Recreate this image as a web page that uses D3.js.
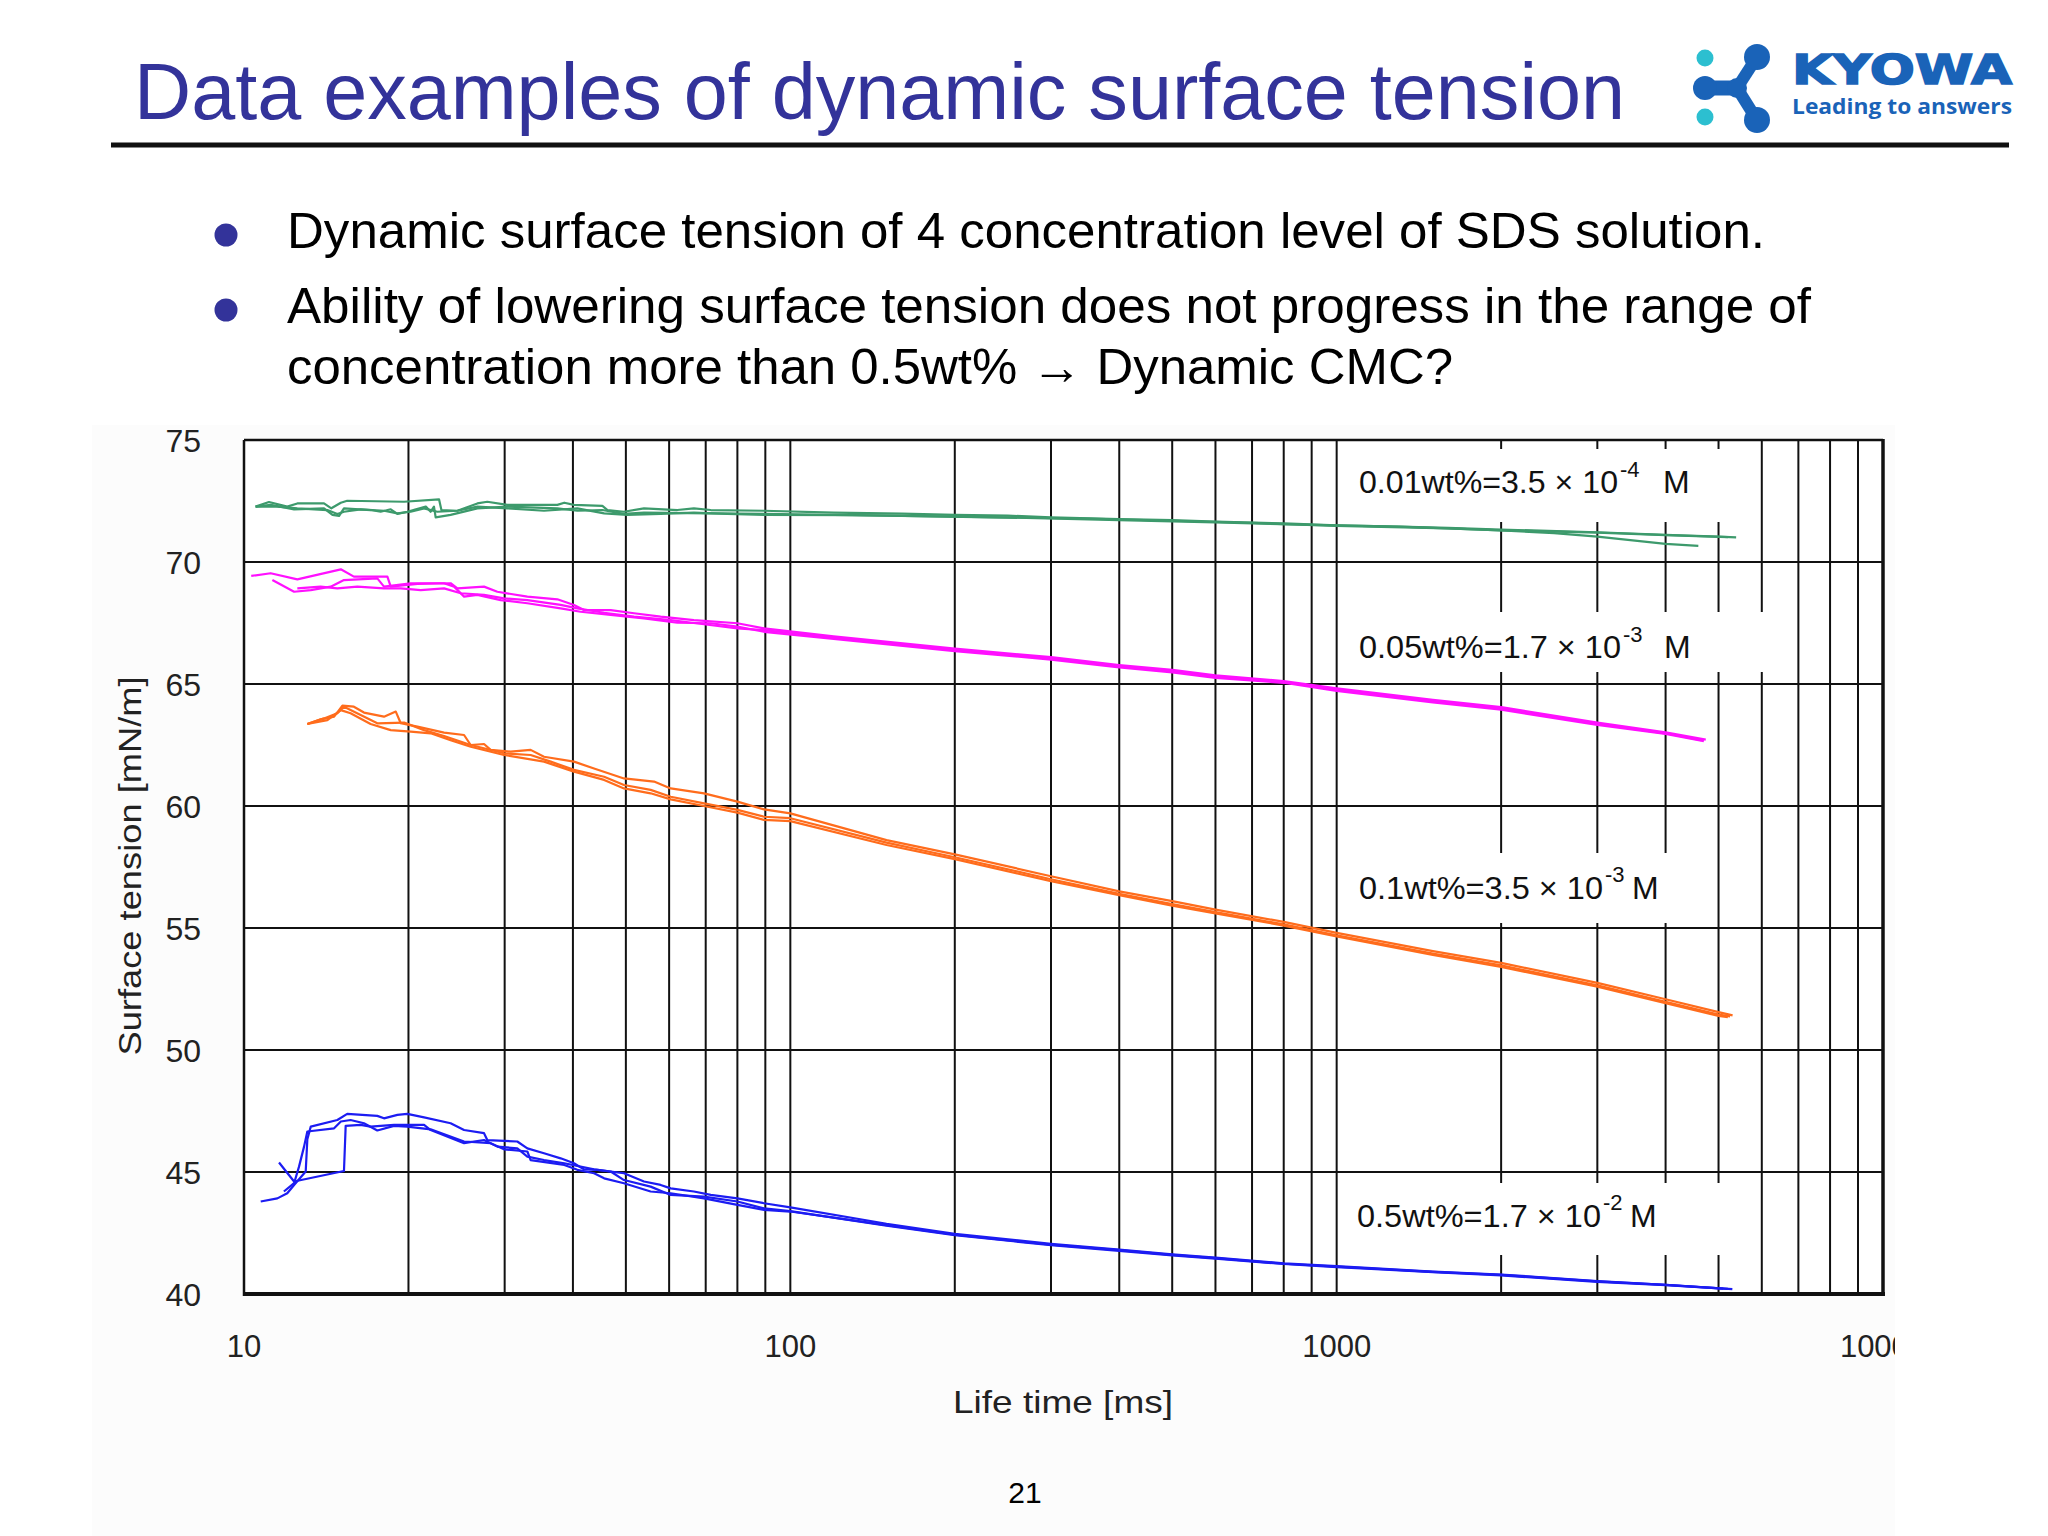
<!DOCTYPE html>
<html>
<head>
<meta charset="utf-8">
<script src="https://cdn.jsdelivr.net/npm/d3@7"></script>
<style>
  body { margin: 0; background: #fff; }
  svg { display: block; }
</style>
</head>
<body>
<svg id="slide"></svg>
<script>
// [life time ms, surface tension mN/m], three runs per concentration
const green1 = [[10.5,72.27],[11.11,72.46],[12.0,72.27],[12.52,72.40],[14.01,72.40],[14.45,72.20],[15.04,72.43],[15.45,72.51],[19.63,72.47],[22.75,72.57],[22.98,72.13],[24.58,72.10],[26.74,72.40],[27.88,72.47],[30.34,72.34],[37.46,72.34],[38.57,72.43],[40.18,72.34],[45.29,72.30],[46.27,72.13],[49.6,72.06],[53.97,72.20],[62.1,72.13],[66.6,72.20],[71.5,72.13],[89.5,72.10],[120,72.02],[160,71.98],[200,71.93],[250,71.9],[300,71.83],[400,71.76],[500,71.72],[600,71.66],[800,71.58],[1000,71.5],[1300,71.45],[1600,71.4],[2000,71.33],[3000,71.22],[4000,71.11],[5000,71.04],[5385,71.01]];
const green2 = [[10.5,72.27],[11.19,72.34],[12.35,72.16],[14.01,72.20],[14.52,71.93],[14.93,71.89],[15.24,72.20],[17.05,72.13],[17.79,72.06],[18.56,72.16],[19.09,71.97],[19.9,72.06],[21.52,72.27],[21.96,72.06],[22.27,72.27],[22.43,71.83],[23.89,71.93],[26.74,72.20],[30.34,72.27],[37.46,72.20],[40.75,72.10],[45.29,72.13],[49.6,71.97],[53.97,72.02],[71.5,71.99],[89.5,71.97],[150,71.9],[250,71.82],[400,71.72],[600,71.62],[900,71.52],[1300,71.45],[2000,71.3],[2500,71.18],[3000,71.04],[4000,70.74],[4592,70.66]];
const green3 = [[10.5,72.27],[11.51,72.27],[12.52,72.2],[14.21,72.13],[14.82,71.97],[15.24,72.06],[16.35,72.16],[18.04,72.10],[19.09,71.99],[20.19,72.06],[21.36,72.2],[22.58,72.06],[24.58,72.10],[26.74,72.27],[30.34,72.2],[35.41,72.10],[40.75,72.2],[45.62,71.99],[50.3,71.93],[57.89,71.97],[66.6,72.02],[76.7,71.97],[89.5,71.93],[130,71.92],[200,71.86],[350,71.78],[500,71.69],[700,71.6],[1000,71.48],[1600,71.38],[2000,71.3],[3000,71.2],[4000,71.1],[5200,71.02]];

const pink1 = [[10.31,69.43],[11.19,69.54],[12.52,69.29],[15.04,69.70],[15.89,69.40],[18.3,69.40],[18.56,68.99],[20.77,69.10],[23.89,69.13],[24.58,68.92],[27.5,68.99],[29.09,68.78],[33.01,68.58],[37.46,68.47],[40.18,68.24],[41.9,68.03],[46.9,68.03],[51.74,67.90],[57.89,67.76],[66.6,67.62],[80,67.49],[89.5,67.28],[120,66.95],[200,66.45],[300,66.1],[400,65.78],[500,65.58],[600,65.35],[800,65.12],[1000,64.82],[1500,64.35],[2000,64.05],[3000,63.42],[4000,63.02],[4738,62.72]];
const pink2 = [[11.27,69.26],[12.35,68.78],[13.25,68.85],[14.41,68.99],[15.24,69.26],[17.54,69.33],[18.04,68.99],[20.19,69.13],[23.24,69.13],[24.24,68.99],[25.28,68.58],[26.74,68.65],[29.5,68.44],[33.01,68.31],[37.98,68.10],[41.32,67.96],[46.9,67.83],[53.97,67.69],[62.1,67.51],[71.5,67.49],[80,67.35],[89.5,67.14],[120,66.85],[200,66.35],[300,66.0],[400,65.68],[500,65.48],[600,65.25],[800,65.05],[1000,64.72],[1500,64.25],[2000,63.95],[3000,63.32],[4000,62.95],[4700,62.66]];
const pink3 = [[12.52,68.92],[13.81,68.99],[14.82,68.92],[16.12,68.99],[18.04,68.92],[19.36,68.92],[21.06,68.85],[23.24,68.92],[24.93,68.72],[27.5,68.65],[29.92,68.51],[33.01,68.44],[37.98,68.24],[40.75,68.10],[45.62,67.92],[51.74,67.76],[60.4,67.62],[69.5,67.45],[80,67.28],[89.5,67.21],[120,66.9],[200,66.4],[300,66.05],[400,65.72],[500,65.52],[600,65.3],[800,65.08],[1000,64.77],[1500,64.3],[2000,64.0],[3000,63.36],[4000,62.98],[4650,62.7]];

const orange1 = [[13.06,63.36],[13.81,63.55],[14.62,63.66],[15.14,64.11],[15.89,64.07],[16.58,63.83],[18.04,63.66],[18.96,63.87],[19.36,63.39],[20.77,63.25],[23.24,63.01],[25.28,62.91],[26.0,62.50],[27.5,62.54],[28.28,62.30],[30.77,62.23],[33.47,62.30],[35.41,62.02],[40.18,61.82],[43.72,61.54],[49.6,61.13],[56.3,61.0],[60.4,60.72],[69.5,60.52],[80,60.18],[89.5,59.86],[100,59.7],[150,58.6],[200,58.02],[300,57.12],[400,56.5],[500,56.1],[600,55.75],[800,55.25],[1000,54.8],[1500,54.05],[2000,53.57],[3000,52.75],[4000,52.08],[5000,51.55],[5305,51.42]];
const orange2 = [[13.06,63.36],[14.01,63.59],[14.82,63.80],[15.24,64.07],[16.35,63.73],[17.54,63.39],[19.63,63.42],[21.36,63.11],[23.24,62.87],[26.0,62.50],[29.92,62.16],[33.47,62.09],[36.42,61.82],[40.18,61.48],[45.62,61.2],[49.6,60.86],[55.5,60.66],[60.4,60.38],[69.5,60.11],[80,59.84],[89.5,59.56],[100,59.5],[150,58.5],[200,57.9],[300,57.0],[400,56.4],[500,55.98],[600,55.65],[800,55.15],[1000,54.7],[1500,53.95],[2000,53.47],[3000,52.65],[4000,51.97],[5000,51.45],[5250,51.38]];
const orange3 = [[13.06,63.36],[14.21,63.52],[15.04,63.93],[15.67,63.80],[17.05,63.36],[18.56,63.11],[20.19,63.05],[21.96,62.98],[23.89,62.70],[26.0,62.43],[29.92,62.09],[35.41,61.82],[40.18,61.41],[45.62,61.07],[49.6,60.72],[55.5,60.52],[60.4,60.27],[69.5,60.0],[80,59.73],[89.5,59.43],[100,59.38],[150,58.4],[200,57.82],[300,56.92],[400,56.35],[500,55.92],[600,55.6],[800,55.1],[1000,54.65],[1500,53.9],[2000,53.4],[3000,52.6],[4000,51.92],[5000,51.4],[5200,51.35]];

const blue1 = [[10.73,43.79],[11.51,43.92],[12.0,44.13],[12.35,44.47],[12.97,45.02],[13.06,46.34],[13.25,46.86],[14.82,47.13],[15.45,47.38],[17.54,47.30],[18.04,47.20],[19.09,47.34],[19.9,47.38],[21.36,47.24],[23.89,47.0],[25.28,46.72],[27.5,46.59],[27.88,46.31],[31.64,46.25],[33.01,45.97],[35.41,45.77],[37.98,45.56],[40.18,45.36],[41.9,45.11],[44.33,45.09],[49.6,44.95],[53.97,44.61],[57.89,44.47],[60.4,44.33],[66.6,44.20],[71.5,44.06],[80,43.92],[89.5,43.72],[100,43.55],[150,42.88],[200,42.47],[300,42.06],[400,41.82],[500,41.63],[600,41.49],[800,41.26],[1000,41.14],[1500,40.92],[2000,40.8],[3000,40.53],[4000,40.38],[5300,40.2]];
const blue2 = [[11.59,45.39],[12.35,44.61],[15.24,45.04],[15.35,46.89],[16.35,46.93],[17.05,46.86],[18.82,46.93],[21.36,46.93],[21.96,46.72],[25.28,46.18],[27.5,46.31],[29.09,46.04],[31.64,45.97],[33.01,45.63],[35.41,45.49],[38.57,45.36],[43.72,45.11],[46.9,45.02],[49.6,44.67],[55.5,44.40],[60.4,44.06],[69.5,43.99],[80,43.79],[89.5,43.51],[100,43.4],[150,42.8],[200,42.41],[300,42.0],[400,41.77],[500,41.58],[600,41.45],[800,41.23],[1000,41.1],[1500,40.9],[2000,40.76],[3000,40.5],[4000,40.36],[5200,40.21]];
const blue3 = [[11.83,44.2],[12.35,44.54],[12.61,45.22],[12.88,46.04],[13.06,46.66],[14.62,46.79],[15.04,47.07],[15.67,47.13],[16.58,47.0],[17.54,46.70],[18.82,46.89],[19.9,46.86],[21.96,46.75],[25.28,46.25],[28.28,46.18],[29.92,45.93],[33.01,45.84],[33.47,45.49],[38.57,45.29],[40.75,45.09],[43.72,44.95],[45.62,44.74],[49.6,44.54],[55.5,44.20],[60.4,44.13],[69.5,43.92],[80,43.65],[89.5,43.45],[100,43.38],[150,42.82],[200,42.43],[300,42.02],[400,41.8],[500,41.6],[600,41.47],[800,41.24],[1000,41.12],[1500,40.91],[2000,40.78],[3000,40.52],[4000,40.37],[5100,40.22]];

const seriesRuns = [[green1, green2, green3], [pink1, pink2, pink3], [orange1, orange2, orange3], [blue1, blue2, blue3]];
const seriesColors = ['#3d9a6c', '#ff10ff', '#ff6c1c', '#1c1cf2'];
const seriesLabels = ['0.01wt%=3.5 \u00d7 10', '0.05wt%=1.7 \u00d7 10', '0.1wt%=3.5 \u00d7 10', '0.5wt%=1.7 \u00d7 10'];
const labelExponents = ['-4', '-3', '-3', '-2'];

const xTickValues = [10, 100, 1000, 10000];
const yTickValues = [40, 45, 50, 55, 60, 65, 70, 75];

const bullets = [
  ['Dynamic surface tension of 4 concentration level of SDS solution.'],
  ['Ability of lowering surface tension does not progress in the range of',
   'concentration more than 0.5wt% \u2192 Dynamic CMC?']
];

const W = 2048, H = 1536;
const plot = {left: 244, right: 1883, top: 440, bottom: 1294};
const sans = '"Liberation Sans", Arial, sans-serif';

const svg = d3.select('#slide')
  .attr('width', W)
  .attr('height', H);

svg.append('rect').attr('width', W).attr('height', H).attr('fill', '#fff');

// header
svg.append('text')
  .attr('x', 134).attr('y', 119)
  .attr('font-family', sans)
  .attr('font-size', 80)
  .attr('fill', '#33339a')
  .attr('textLength', 1491)
  .attr('lengthAdjust', 'spacingAndGlyphs')
  .text('Data examples of dynamic surface tension');

svg.append('line')
  .attr('x1', 111).attr('x2', 2009)
  .attr('y1', 145).attr('y2', 145)
  .attr('stroke', '#111')
  .attr('stroke-width', 5);

// logo
const logo = svg.append('g');
const logoBlue = '#1a63b8', logoTeal = '#2cbfd0';
logo.append('line').attr('x1', 1705).attr('y1', 88).attr('x2', 1737).attr('y2', 88)
  .attr('stroke', logoBlue).attr('stroke-width', 15);
logo.append('line').attr('x1', 1737).attr('y1', 88).attr('x2', 1757).attr('y2', 57)
  .attr('stroke', logoBlue).attr('stroke-width', 12);
logo.append('line').attr('x1', 1737).attr('y1', 88).attr('x2', 1757).attr('y2', 120)
  .attr('stroke', logoBlue).attr('stroke-width', 12);
[[1705, 88, 12], [1737, 88, 10], [1757, 57, 13], [1757, 120, 13]].forEach(c => {
  logo.append('circle').attr('cx', c[0]).attr('cy', c[1]).attr('r', c[2]).attr('fill', logoBlue);
});
[[1705, 58], [1705, 117]].forEach(c => {
  logo.append('circle').attr('cx', c[0]).attr('cy', c[1]).attr('r', 8.5).attr('fill', logoTeal);
});
logo.append('text')
  .attr('x', 1792).attr('y', 84)
  .attr('font-family', '"DejaVu Sans", sans-serif')
  .attr('font-weight', 'bold')
  .attr('font-size', 40)
  .attr('fill', logoBlue)
  .attr('stroke', logoBlue)
  .attr('stroke-width', 1.5)
  .attr('textLength', 220)
  .attr('lengthAdjust', 'spacingAndGlyphs')
  .text('KYOWA');
logo.append('text')
  .attr('x', 1792).attr('y', 114)
  .attr('font-family', '"Open Sans", sans-serif')
  .attr('font-weight', 'bold')
  .attr('font-size', 22)
  .attr('fill', logoBlue)
  .attr('textLength', 220)
  .attr('lengthAdjust', 'spacingAndGlyphs')
  .text('Leading to answers');

// bullet points
const bulletY = [248, 323];
const lineWidths = [[1478], [1524, 1166]];
bullets.forEach((lines, i) => {
  svg.append('circle')
    .attr('cx', 226).attr('cy', bulletY[i] - 13)
    .attr('r', 11.5)
    .attr('fill', '#33339a');
  lines.forEach((s, j) => {
    svg.append('text')
      .attr('x', 287).attr('y', bulletY[i] + j * 61)
      .attr('font-family', sans)
      .attr('font-size', 50)
      .attr('fill', '#000')
      .attr('textLength', lineWidths[i][j])
      .attr('lengthAdjust', 'spacingAndGlyphs')
      .text(s);
  });
});

// chart picture backdrop
svg.append('rect')
  .attr('x', 92).attr('y', 425).attr('width', 1803).attr('height', 1111)
  .attr('fill', '#fcfcfc');
svg.append('rect')
  .attr('x', plot.left).attr('y', plot.top)
  .attr('width', plot.right - plot.left).attr('height', plot.bottom - plot.top)
  .attr('fill', '#fff');

const xScale = d3.scaleLog()
  .domain([10, 10000])
  .range([plot.left, plot.right]);

const yScale = d3.scaleLinear()
  .domain([40, 75])
  .range([plot.bottom, plot.top]);

const chart = svg.append('g');

// grid
chart.append('g').selectAll('line')
  .data(xScale.ticks())
  .enter().append('line')
  .attr('x1', d => xScale(d)).attr('x2', d => xScale(d))
  .attr('y1', plot.top).attr('y2', plot.bottom)
  .attr('stroke', '#111')
  .attr('stroke-width', 2);

chart.append('g').selectAll('line')
  .data(yTickValues)
  .enter().append('line')
  .attr('x1', plot.left).attr('x2', plot.right)
  .attr('y1', d => yScale(d)).attr('y2', d => yScale(d))
  .attr('stroke', '#111')
  .attr('stroke-width', 2);

// white boxes behind the concentration labels
const labelBoxes = [[1341, 449, 1758, 522], [1341, 612, 1796, 672], [1341, 853, 1712, 923], [1341, 1183, 1757, 1255]];
chart.append('g').selectAll('rect')
  .data(labelBoxes)
  .enter().append('rect')
  .attr('x', d => d[0]).attr('y', d => d[1])
  .attr('width', d => d[2] - d[0]).attr('height', d => d[3] - d[1])
  .attr('fill', '#fff');

// runs
chart.append('clipPath').attr('id', 'plotClip')
  .append('rect')
  .attr('x', plot.left).attr('y', plot.top)
  .attr('width', plot.right - plot.left).attr('height', plot.bottom - plot.top);

const line = d3.line()
  .x(d => xScale(d[0]))
  .y(d => yScale(d[1]));

const runs = chart.append('g').attr('clip-path', 'url(#plotClip)');
seriesRuns.forEach((group, i) => {
  group.forEach(run => {
    runs.append('path')
      .datum(run)
      .attr('d', line)
      .attr('fill', 'none')
      .attr('stroke', seriesColors[i])
      .attr('stroke-width', 2.2)
      .attr('stroke-linejoin', 'round');
  });
});

// frame
chart.append('line').attr('x1', plot.left).attr('x2', plot.left).attr('y1', plot.top).attr('y2', plot.bottom + 2)
  .attr('stroke', '#111').attr('stroke-width', 2.5);
chart.append('line').attr('x1', plot.left).attr('x2', plot.right).attr('y1', plot.top).attr('y2', plot.top)
  .attr('stroke', '#111').attr('stroke-width', 2.5);
chart.append('line').attr('x1', plot.right).attr('x2', plot.right).attr('y1', plot.top - 1).attr('y2', plot.bottom + 2)
  .attr('stroke', '#111').attr('stroke-width', 3.5);
chart.append('line').attr('x1', plot.left - 1).attr('x2', plot.right + 2).attr('y1', plot.bottom).attr('y2', plot.bottom)
  .attr('stroke', '#111').attr('stroke-width', 4);

// concentration labels
const labelPos = [[1359, 493, 1620, 477, 1663], [1359, 658, 1623, 642, 1664], [1359, 899, 1605, 882, 1632], [1357, 1227, 1603, 1210, 1630]];
seriesLabels.forEach((s, i) => {
  const p = labelPos[i];
  chart.append('text')
    .attr('x', p[0]).attr('y', p[1])
    .attr('font-family', sans).attr('font-size', 32).attr('fill', '#111')
    .attr('textLength', p[2] - p[0] - 2)
    .attr('lengthAdjust', 'spacingAndGlyphs')
    .text(s);
  chart.append('text')
    .attr('x', p[2]).attr('y', p[3])
    .attr('font-family', sans).attr('font-size', 22).attr('fill', '#111')
    .text(labelExponents[i]);
  chart.append('text')
    .attr('x', p[4]).attr('y', p[1])
    .attr('font-family', sans).attr('font-size', 32).attr('fill', '#111')
    .text('M');
});

// tick labels
chart.append('g').selectAll('text')
  .data(yTickValues)
  .enter().append('text')
  .attr('x', 201)
  .attr('y', d => yScale(d))
  .attr('dy', '0.36em')
  .attr('text-anchor', 'end')
  .attr('font-family', sans)
  .attr('font-size', 32)
  .attr('fill', '#222')
  .text(d => d);

chart.append('clipPath').attr('id', 'pictureClip')
  .append('rect').attr('x', 0).attr('y', 0).attr('width', 1895).attr('height', H);

chart.append('g').attr('clip-path', 'url(#pictureClip)')
  .selectAll('text')
  .data(xTickValues)
  .enter().append('text')
  .attr('x', d => xScale(d))
  .attr('y', 1357)
  .attr('text-anchor', 'middle')
  .attr('font-family', sans)
  .attr('font-size', 31)
  .attr('fill', '#222')
  .text(d => d);

// axis titles
chart.append('text')
  .attr('x', 1063).attr('y', 1413)
  .attr('text-anchor', 'middle')
  .attr('font-family', sans)
  .attr('font-size', 32)
  .attr('fill', '#222')
  .attr('textLength', 220)
  .attr('lengthAdjust', 'spacingAndGlyphs')
  .text('Life time [ms]');

chart.append('text')
  .attr('transform', 'translate(141, 866) rotate(-90)')
  .attr('text-anchor', 'middle')
  .attr('font-family', sans)
  .attr('font-size', 32)
  .attr('fill', '#222')
  .attr('textLength', 379)
  .attr('lengthAdjust', 'spacingAndGlyphs')
  .text('Surface tension [mN/m]');

// page number
svg.append('text')
  .attr('x', 1025).attr('y', 1503)
  .attr('text-anchor', 'middle')
  .attr('font-family', sans)
  .attr('font-size', 30)
  .attr('fill', '#000')
  .text('21');
</script>
</body>
</html>
